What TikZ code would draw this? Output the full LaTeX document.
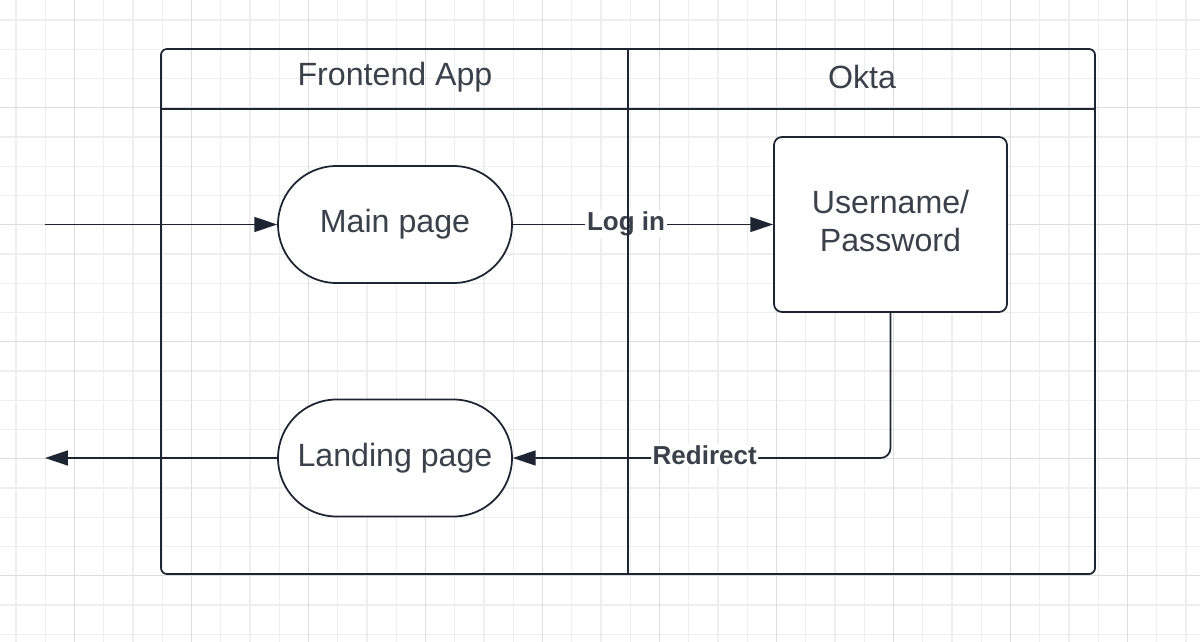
\documentclass[tikz,border=0pt]{standalone}
\usepackage{fontspec}
\setmainfont{Liberation Sans}
\usetikzlibrary{arrows.meta,positioning}
\definecolor{inkline}{HTML}{1D2432}
\definecolor{inktext}{HTML}{3A414A}
\definecolor{gridminor}{HTML}{EEEEEE}
\definecolor{gridmajor}{HTML}{DDDDDD}

\begin{document}
\begin{tikzpicture}[
            x=0.02cm, y=-0.02cm,
            >={Triangle[length=13pt,width=8.5pt]},
            flow/.style={draw=inkline, line width=1pt},
            page/.style={draw=inkline, fill=white, line width=1pt,
                            rounded corners=1.17cm,
                            minimum width=4.68cm, minimum height=2.34cm,
                            text=inktext, font=\fontsize{18.3}{21.6}\selectfont},
            block/.style={draw=inkline, fill=white, line width=1pt,
                            rounded corners=0.16cm, align=center,
                            minimum width=4.66cm, minimum height=3.5cm,
                            text=inktext, font=\fontsize{18.3}{21.6}\selectfont},
            lane/.style={text=inktext, font=\fontsize{18.3}{21.6}\selectfont},
            tag/.style={fill=white, inner sep=1pt, text=inktext,
                            font=\bfseries\fontsize{14.8}{17}\selectfont}
        ]

            \useasboundingbox (0,0) rectangle (1200,642);

            % grid
            \foreach \k in {0,...,40}
                \draw[gridminor, line width=0.8pt] ({16+29.25*\k},0) -- ++(0,642);
            \foreach \k in {0,...,21}
                \draw[gridminor, line width=0.8pt] (0,{20+29.25*\k}) -- ++(1200,0);
            \foreach \k in {2,6,...,38}
                \draw[gridmajor, line width=0.8pt] ({16+29.25*\k},0) -- ++(0,642);
            \foreach \k in {3,7,...,19}
                \draw[gridmajor, line width=0.8pt] (0,{20+29.25*\k}) -- ++(1200,0);

            \node[page] (main) at (395,224.5) {Main page};
            \node[page] (landing) at (395,458) {Landing page};
            \node[block] (upw) at (890.5,224.5) {Username/\\Password\vphantom{g}};

            \coordinate (start) at (45,224.5);
            \coordinate (exit) at (45,458);

            \draw[flow,->] (start) -- (main);
            \draw[flow,->] (main) -- node[tag, pos=0.435, yshift=0.5pt] {Log in} (upw);
            \draw[flow,->, rounded corners=0.2cm] (upw.south) |- node[tag, pos=0.746, yshift=1.5pt] {Redirect} (landing.east);
            \draw[flow,->] (landing) -- (exit);

            % swimlanes
            \draw[flow, rounded corners=0.12cm] (161,49) rectangle (1095,574);
            \draw[flow] (161,109) -- (1095,109);
            \draw[flow] (628,49) -- (628,574);
            \node[lane] (front) at (395,77) {Frontend App};
            \node[lane] (okta) at (862,77) {Okta};

        \end{tikzpicture}
\end{document}
